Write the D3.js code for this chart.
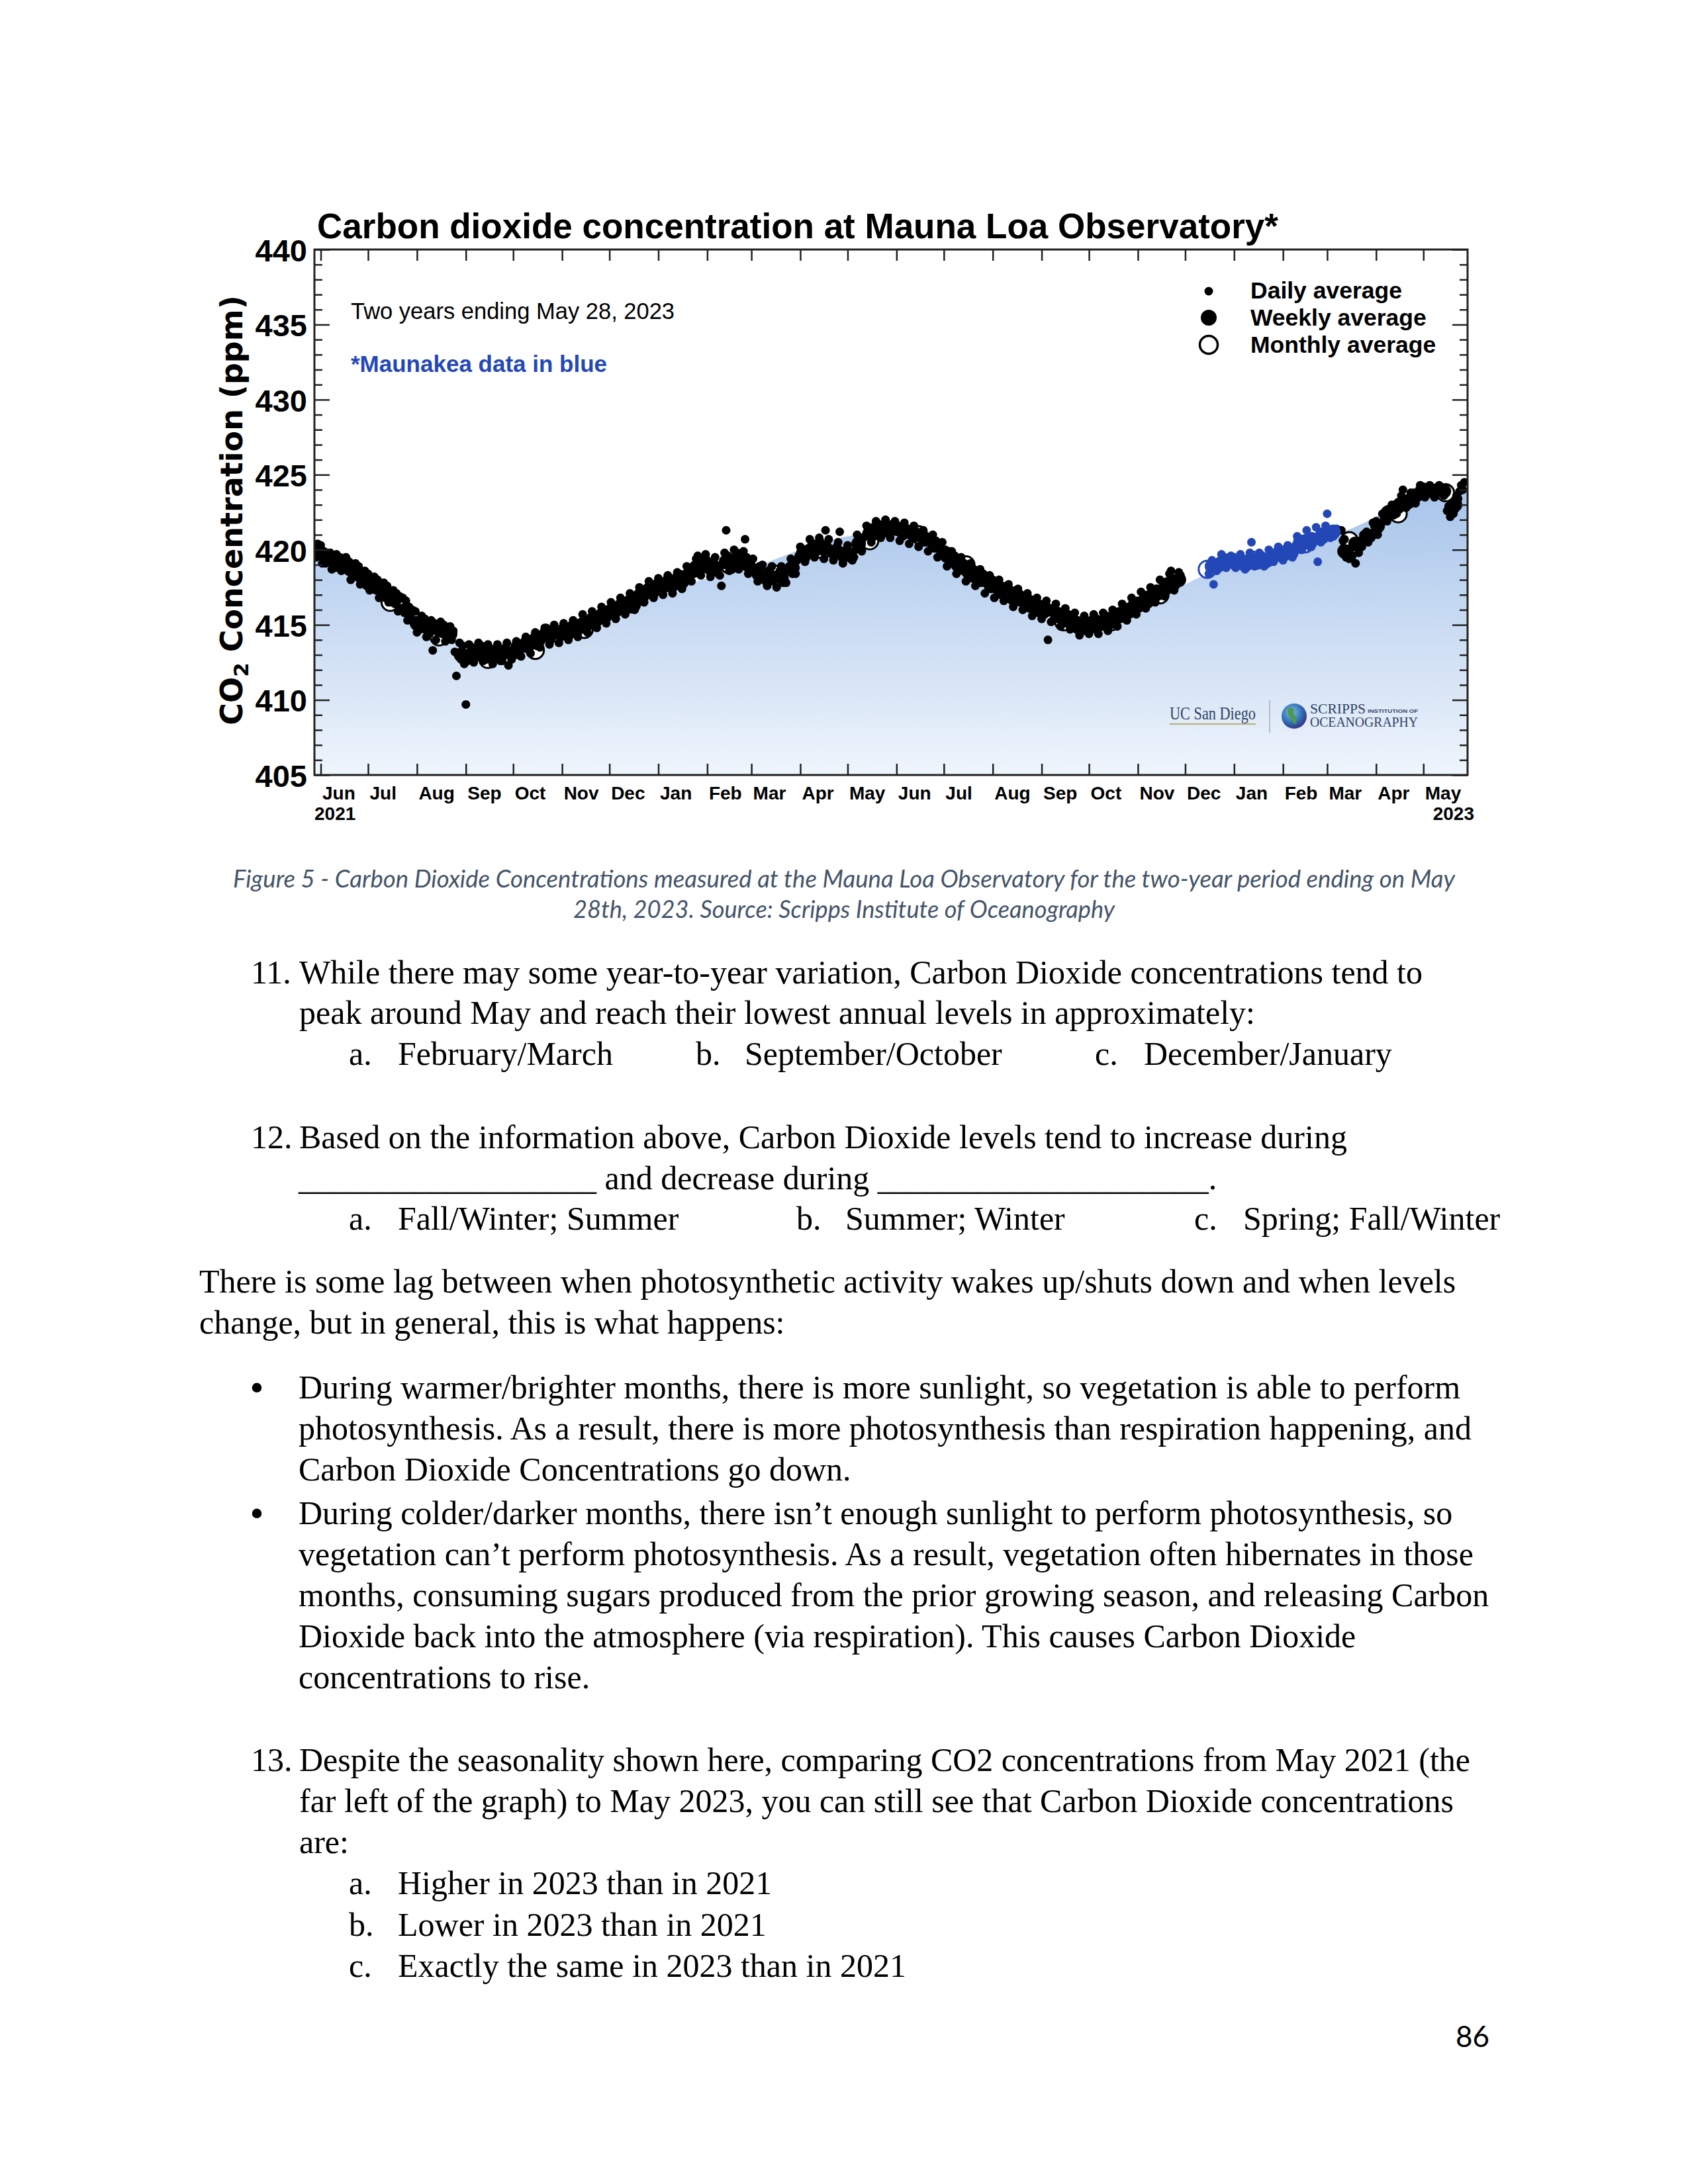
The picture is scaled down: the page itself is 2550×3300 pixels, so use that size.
<!DOCTYPE html>
<html>
<head>
<meta charset="utf-8">
<script src="https://cdn.jsdelivr.net/npm/d3@7"></script>
<style>
  body { margin: 0; background: #fff; }
  svg { display: block; }
</style>
</head>
<body>
<svg id="page" width="2550" height="3300"></svg>
<script>
"use strict";

// ---- chart data (ppm) ----
var domainStart = "2021-05-28", domainEnd = "2023-05-29";
var yMajor = [405, 410, 415, 420, 425, 430, 435, 440];
var monthLabels = ["Jun", "Jul", "Aug", "Sep", "Oct", "Nov", "Dec", "Jan", "Feb", "Mar", "Apr", "May",
                   "Jun", "Jul", "Aug", "Sep", "Oct", "Nov", "Dec", "Jan", "Feb", "Mar", "Apr", "May"];
var yearLabels = ["2021", "2023"];

// daily averages, one value every 3 days (three interleaved runs per station)
var dailyStep = 3;
var dailyStartMloA = "2021-05-28";
var dailyMloA = [420.0, 419.6, 419.9, 419.2, 419.5, 418.9, 419.3, 418.6, 418.9, 418.2,
  418.5, 417.6, 418.0, 417.3, 417.6, 416.8, 417.3, 416.4, 416.9, 415.8,
  416.2, 415.3, 414.8, 415.2, 414.5, 413.3, 414.9, 414.4, 414.8, 414.0,
  411.6, 412.7, 409.7, 413.2, 412.8, 413.4, 412.9, 413.3, 412.8, 413.4,
  413.0, 412.3, 413.3, 413.0, 413.7, 413.4, 414.0, 413.6, 414.3, 414.8,
  414.0, 414.6, 414.2, 414.7, 414.3, 414.9, 414.6, 415.3, 414.9, 415.6,
  415.2, 415.9, 415.5, 416.2, 415.8, 416.5, 416.0, 416.8, 416.4, 417.1,
  416.9, 417.6, 417.1, 417.9, 417.4, 417.9, 417.5, 418.3, 417.7, 418.5,
  418.9, 419.6, 418.7, 419.3, 418.5, 418.9, 417.6, 421.3, 419.0, 419.6,
  419.2, 420.7, 419.1, 418.6, 418.9, 418.0, 418.6, 417.9, 418.4, 417.8,
  418.7, 418.4, 419.3, 419.9, 419.5, 420.3, 419.8, 420.5, 421.3, 420.0,
  419.8, 421.2, 419.6, 419.9, 419.5, 420.2, 420.8, 421.1, 421.5, 421.0,
  421.6, 421.3, 421.7, 421.2, 421.5, 421.0, 421.3, 420.8, 421.0, 420.5,
  420.8, 420.1, 420.3, 419.6, 419.9, 419.1, 419.3, 418.6, 418.9, 418.1,
  418.6, 417.8, 418.2, 417.4, 417.8, 417.0, 417.5, 416.7, 417.1, 416.5,
  416.8, 416.1, 416.5, 415.8, 416.2, 414.0, 415.9, 415.4, 415.8, 415.1,
  415.5, 414.7, 415.1, 414.6, 415.3, 414.8, 415.3, 414.9, 415.5, 415.2,
  415.9, 415.5, 416.2, 415.9, 416.6, 416.2, 417.0, 416.6, 417.4, 417.0,
  417.8, 418.6, 417.6, 418.3];
var dailyStartMloA2 = "2021-05-29";
var dailyMloA2 = [419.5, 420.3, 419.1, 419.8, 418.8, 419.5, 418.7, 419.2, 418.3, 418.9,
  417.8, 418.4, 417.4, 418.0, 416.9, 417.6, 416.5, 417.1, 416.1, 416.6,
  415.5, 415.9, 414.7, 415.4, 414.4, 415.1, 414.5, 415.0, 414.1, 414.6,
  413.0, 413.6, 412.6, 413.5, 412.9, 413.6, 412.7, 413.4, 413.1, 412.6,
  413.5, 413.1, 413.6, 413.2, 413.9, 413.5, 414.2, 413.8, 414.5, 414.1,
  414.7, 414.3, 414.8, 414.4, 415.0, 414.5, 415.2, 414.8, 415.5, 415.1,
  415.8, 415.4, 416.1, 415.7, 416.4, 416.0, 416.7, 416.3, 417.1, 416.7,
  417.5, 417.0, 417.8, 417.3, 418.0, 417.4, 418.1, 417.6, 418.4, 418.2,
  419.0, 418.4, 419.4, 418.6, 419.2, 418.4, 419.0, 419.6, 418.8, 419.8,
  419.0, 419.5, 418.7, 418.3, 418.7, 417.9, 418.5, 418.1, 418.6, 418.0,
  418.9, 418.6, 419.6, 419.4, 420.1, 419.7, 420.4, 419.9, 420.3, 419.7,
  420.2, 419.5, 420.0, 419.4, 420.0, 420.6, 420.9, 421.4, 420.9, 421.7,
  421.1, 421.6, 421.3, 421.6, 420.9, 421.4, 420.9, 421.2, 420.6, 420.9,
  420.3, 420.6, 419.8, 420.0, 419.4, 419.6, 418.8, 419.1, 418.4, 418.7,
  417.9, 418.4, 417.6, 418.0, 417.2, 417.6, 416.9, 417.3, 416.6, 417.0,
  416.3, 416.7, 415.9, 416.4, 415.7, 416.1, 415.5, 415.9, 415.2, 415.7,
  414.9, 415.3, 414.7, 415.2, 414.7, 415.4, 414.9, 415.6, 415.0, 415.7,
  415.4, 416.0, 415.7, 416.5, 416.1, 416.8, 416.4, 417.2, 416.9, 417.6,
  417.3, 418.1, 417.9];
var dailyStartMloA3 = "2021-05-30";
var dailyMloA3 = [420.4, 419.1, 419.8, 418.7, 419.7, 418.6, 419.5, 418.0, 419.1, 417.7,
  418.6, 417.3, 418.2, 416.8, 417.8, 416.5, 417.3, 415.9, 416.8, 415.3,
  416.0, 414.5, 415.6, 414.2, 415.3, 414.0, 415.2, 413.9, 414.9, 413.2,
  413.8, 412.4, 413.7, 412.5, 413.8, 412.6, 413.7, 412.4, 413.7, 412.6,
  413.8, 412.7, 413.9, 412.9, 414.2, 413.1, 414.5, 413.5, 414.8, 413.7,
  415.0, 413.8, 415.1, 414.0, 415.3, 414.2, 415.7, 414.5, 415.9, 414.8,
  416.2, 415.1, 416.5, 415.4, 416.8, 415.7, 417.1, 416.0, 417.5, 416.5,
  417.9, 416.8, 418.1, 417.0, 418.3, 417.1, 418.5, 417.4, 418.9, 417.9,
  419.4, 418.3, 419.7, 418.2, 419.5, 418.3, 419.8, 418.6, 420.0, 418.7,
  419.9, 418.4, 419.4, 417.9, 419.0, 417.6, 418.9, 417.5, 418.9, 417.8,
  419.4, 418.4, 420.2, 419.2, 420.7, 419.5, 420.8, 419.4, 420.7, 419.3,
  420.5, 419.1, 420.3, 419.3, 421.0, 419.9, 421.6, 420.5, 421.9, 420.8,
  422.0, 420.8, 421.9, 420.6, 421.8, 420.4, 421.6, 420.2, 421.3, 419.9,
  421.0, 419.5, 420.5, 418.9, 419.9, 418.4, 419.5, 417.9, 419.1, 417.6,
  418.7, 417.1, 418.3, 416.8, 418.0, 416.6, 417.7, 416.2, 417.4, 416.0,
  417.1, 415.6, 416.8, 415.4, 416.6, 415.2, 416.4, 414.9, 416.1, 414.7,
  415.8, 414.3, 415.6, 414.4, 415.7, 414.4, 415.8, 414.6, 416.0, 414.9,
  416.4, 415.3, 416.8, 415.7, 417.2, 416.1, 417.5, 416.5, 418.0, 416.9,
  418.4, 417.3, 418.5];
var dailyStartMko = "2022-12-16";
var dailyMko = [418.4, 417.7, 419.2, 419.0, 419.4, 419.0, 419.3, 418.9, 419.4, 420.5,
  419.1, 419.5, 419.0, 419.6, 419.4, 419.9, 419.5, 420.0, 419.7, 420.6,
  420.3, 420.9, 420.4, 419.2, 421.0, 422.4, 421.2, 421.4];
var dailyStartMko2 = "2022-12-17";
var dailyMko2 = [418.8, 419.0, 418.8, 419.5, 419.1, 419.5, 419.0, 419.3, 418.9, 419.4,
  419.0, 419.6, 419.2, 419.7, 419.9, 419.5, 420.1, 419.6, 420.3, 420.0,
  420.7, 420.2, 420.8, 421.0, 420.7, 421.3, 420.9];
var dailyStartMko3 = "2022-12-18";
var dailyMko3 = [419.3, 418.6, 419.7, 418.8, 419.6, 418.8, 419.7, 418.7, 419.8, 418.9,
  419.8, 418.9, 420.0, 419.2, 420.2, 419.3, 420.3, 419.5, 420.9, 420.0,
  421.3, 420.2, 421.5, 420.5, 421.6, 420.8];
var dailyStartMloB = "2023-03-10";
var dailyMloB = [421.3, 419.5, 420.1, 419.1, 420.6, 420.9, 421.1, 421.6, 421.4, 422.2,
  422.6, 422.3, 423.0, 424.0, 423.1, 423.4, 423.6, 424.1, 423.8, 424.0,
  423.8, 424.1, 423.9, 422.2, 422.7, 423.9, 424.5];
var dailyStartMloB2 = "2023-03-11";
var dailyMloB2 = [420.6, 419.9, 419.6, 420.3, 420.2, 421.2, 420.8, 421.9, 421.7, 422.6,
  422.2, 423.0, 422.7, 423.4, 423.0, 423.8, 423.5, 424.2, 424.0, 423.7,
  424.2, 423.8, 422.6, 423.1, 423.6, 424.3];
var dailyStartMloB3 = "2023-03-12";
var dailyMloB3 = [420.7, 419.4, 420.5, 419.8, 421.0, 420.5, 421.8, 421.0, 422.4, 421.9,
  423.0, 422.4, 423.6, 422.8, 423.8, 423.1, 424.3, 423.5, 424.3, 423.5,
  424.3, 423.6, 422.9, 422.4, 423.4, 424.0];

// weekly averages
var weeklyStep = 7;
var weeklyStartMloA = "2021-05-30";
var weeklyMloA = [419.8, 419.4, 419.1, 418.7, 418.2, 417.7, 417.2, 416.7, 416.0, 415.1,
  414.8, 414.7, 414.4, 413.0, 413.1, 413.2, 413.0, 413.2, 413.3, 413.6,
  414.0, 414.3, 414.4, 414.6, 415.0, 415.3, 415.7, 416.0, 416.3, 416.8,
  417.3, 417.5, 417.7, 418.0, 418.6, 419.0, 418.8, 419.2, 419.4, 419.0,
  418.4, 418.2, 418.2, 418.8, 419.8, 420.2, 420.1, 419.9, 419.7, 420.4,
  421.1, 421.4, 421.4, 421.2, 421.0, 420.7, 420.3, 419.6, 419.0, 418.5,
  418.1, 417.6, 417.3, 416.9, 416.6, 416.2, 416.0, 415.7, 415.4, 415.0,
  415.0, 415.1, 415.4, 415.8, 416.3, 416.7, 417.2, 417.7, 418.0];
var weeklyStartMko = "2022-12-18";
var weeklyMko = [418.9, 419.2, 419.2, 419.1, 419.3, 419.3, 419.7, 419.8, 420.5, 420.7, 421.0, 421.2];
var weeklyStartMloB = "2023-03-12";
var weeklyMloB = [419.9, 420.4, 420.9, 421.6, 422.5, 423.0, 423.3, 423.9, 423.9, 423.9, 423.0];

// monthly averages (plotted mid-month)
var monthlyStartMloA = "2021-06-15";
var monthlyMloA = [419.1, 416.5, 414.2, 412.7, 413.3, 414.7, 416.4, 418.0, 419.0, 418.4,
  420.0, 420.6, 421.0, 419.0, 416.9, 415.2, 415.2, 417.0];
var monthlyStartMko = "2022-12-15";
var monthlyMko = [418.7, 419.3, 420.4];
var monthlyStartMloB = "2023-03-15";
var monthlyMloB = [420.6, 422.4, 423.8];

// smooth curve bounding the shaded area
var fillDates = ["2021-05-28", "2021-06-15", "2021-07-01", "2021-07-15", "2021-08-01", "2021-08-15",
  "2021-09-01", "2021-09-15", "2021-10-01", "2021-10-15", "2021-11-01", "2021-11-15", "2021-12-01",
  "2021-12-15", "2022-01-01", "2022-01-15", "2022-02-01", "2022-03-01", "2022-04-01", "2022-05-01",
  "2022-05-20", "2022-06-10", "2022-07-01", "2022-07-15", "2022-08-01", "2022-08-15", "2022-09-01",
  "2022-09-15", "2022-10-01", "2022-10-15", "2022-11-01", "2022-11-15", "2022-12-01", "2022-12-15",
  "2023-01-01", "2023-02-01", "2023-03-01", "2023-04-01", "2023-04-15", "2023-05-01", "2023-05-29"];
var fillValues = [420.0, 419.0, 417.9, 416.9, 415.7, 414.7, 413.9, 413.5, 413.6, 414.0,
  414.5, 415.0, 415.6, 416.3, 417.1, 417.6, 418.1, 418.8, 420.0, 420.9,
  421.1, 420.8, 419.5, 418.3, 417.1, 416.3, 415.6, 415.2, 415.05, 415.3,
  416.0, 416.9, 417.7, 418.4, 419.1, 420.0, 420.8, 422.2, 423.1, 423.7, 424.1];

// ---- helpers ----
var parse = d3.utcParse("%Y-%m-%d");
var blue = "#2447b8";

function stepSeries(start, step, values, interval) {
  var t0 = parse(start);
  return values.map(function (v, i) {
    return {date: interval.offset(t0, i * step), value: v};
  });
}

var daily = [
  {color: "#000", data: stepSeries(dailyStartMloA, dailyStep, dailyMloA, d3.utcDay)},
  {color: "#000", data: stepSeries(dailyStartMloA2, dailyStep, dailyMloA2, d3.utcDay)},
  {color: "#000", data: stepSeries(dailyStartMloA3, dailyStep, dailyMloA3, d3.utcDay)},
  {color: blue, data: stepSeries(dailyStartMko, dailyStep, dailyMko, d3.utcDay)},
  {color: blue, data: stepSeries(dailyStartMko2, dailyStep, dailyMko2, d3.utcDay)},
  {color: blue, data: stepSeries(dailyStartMko3, dailyStep, dailyMko3, d3.utcDay)},
  {color: "#000", data: stepSeries(dailyStartMloB, dailyStep, dailyMloB, d3.utcDay)},
  {color: "#000", data: stepSeries(dailyStartMloB2, dailyStep, dailyMloB2, d3.utcDay)},
  {color: "#000", data: stepSeries(dailyStartMloB3, dailyStep, dailyMloB3, d3.utcDay)}
];
var weekly = [
  {color: "#000", data: stepSeries(weeklyStartMloA, weeklyStep, weeklyMloA, d3.utcDay)},
  {color: blue, data: stepSeries(weeklyStartMko, weeklyStep, weeklyMko, d3.utcDay)},
  {color: "#000", data: stepSeries(weeklyStartMloB, weeklyStep, weeklyMloB, d3.utcDay)}
];
var monthly = [
  {color: "#000", data: stepSeries(monthlyStartMloA, 1, monthlyMloA, d3.utcMonth)},
  {color: blue, data: stepSeries(monthlyStartMko, 1, monthlyMko, d3.utcMonth)},
  {color: "#000", data: stepSeries(monthlyStartMloB, 1, monthlyMloB, d3.utcMonth)}
];
var fillCurve = fillDates.map(function (d, i) {
  return {date: parse(d), value: fillValues[i]};
});

// ---- layout ----
var plot = {left: 475, right: 2217, top: 377, bottom: 1171};
var sansBold = "'Liberation Sans', Arial, Helvetica, sans-serif";

var svg = d3.select("#page");

var x = d3.scaleUtc()
  .domain([parse(domainStart), parse(domainEnd)])
  .range([plot.left, plot.right]);
var y = d3.scaleLinear()
  .domain([405, 440])
  .range([plot.bottom, plot.top]);

var defs = svg.append("defs");
var grad = defs.append("linearGradient")
  .attr("id", "fillGrad")
  .attr("gradientUnits", "userSpaceOnUse")
  .attr("x1", 0).attr("x2", 0)
  .attr("y1", y(424.5)).attr("y2", y(405));
grad.append("stop").attr("offset", 0).attr("stop-color", "#a6c3ea");
grad.append("stop").attr("offset", 1).attr("stop-color", "#eff5fc");

defs.append("clipPath").attr("id", "plotClip")
  .append("rect")
  .attr("x", plot.left).attr("y", plot.top)
  .attr("width", plot.right - plot.left).attr("height", plot.bottom - plot.top);

var globe = defs.append("radialGradient").attr("id", "globeGrad")
  .attr("cx", "40%").attr("cy", "35%").attr("r", "70%");
globe.append("stop").attr("offset", 0).attr("stop-color", "#7fc2e8");
globe.append("stop").attr("offset", 0.6).attr("stop-color", "#2d6db3");
globe.append("stop").attr("offset", 1).attr("stop-color", "#3a2a7a");

// ---- title ----
svg.append("text")
  .attr("x", 479).attr("y", 360)
  .attr("font-family", sansBold).attr("font-weight", "bold")
  .attr("font-size", 53)
  .text("Carbon dioxide concentration at Mauna Loa Observatory*");

// ---- shaded area ----
var chart = svg.append("g").attr("clip-path", "url(#plotClip)");

var area = d3.area()
  .x(function (d) { return x(d.date); })
  .y0(y(405))
  .y1(function (d) { return y(d.value); })
  .curve(d3.curveMonotoneX);

chart.append("path")
  .datum(fillCurve)
  .attr("d", area)
  .attr("fill", "url(#fillGrad)");

// ---- logos ----
var logo = svg.append("g").attr("fill", "#2f4266");
logo.append("text")
  .attr("x", 1767).attr("y", 1087)
  .attr("font-family", "'Liberation Serif', 'Times New Roman', serif")
  .attr("font-size", 27).attr("textLength", 130).attr("lengthAdjust", "spacingAndGlyphs")
  .text("UC San Diego");
logo.append("line")
  .attr("x1", 1767).attr("x2", 1897).attr("y1", 1094).attr("y2", 1094)
  .attr("stroke", "#b8b276").attr("stroke-width", 2);
logo.append("line")
  .attr("x1", 1918).attr("x2", 1918).attr("y1", 1058).attr("y2", 1107)
  .attr("stroke", "#a9adb8").attr("stroke-width", 1.5);
logo.append("circle")
  .attr("cx", 1955).attr("cy", 1082).attr("r", 19)
  .attr("fill", "url(#globeGrad)");
logo.append("path")
  .attr("d", "M1946,1070 q6,-3 9,3 q-2,6 2,10 q4,6 -1,12 q-4,-5 -6,-10 q-6,-4 -4,-15 Z")
  .attr("fill", "#4f9a4a");
logo.append("text")
  .attr("x", 1979).attr("y", 1078)
  .attr("font-family", "'Liberation Serif', 'Times New Roman', serif")
  .attr("font-size", 22).attr("textLength", 84).attr("lengthAdjust", "spacingAndGlyphs")
  .text("SCRIPPS");
logo.append("text")
  .attr("x", 2066).attr("y", 1077)
  .attr("font-family", sansBold).attr("font-weight", "bold")
  .attr("font-size", 8).attr("textLength", 76).attr("lengthAdjust", "spacingAndGlyphs")
  .text("INSTITUTION OF");
logo.append("text")
  .attr("x", 1979).attr("y", 1098)
  .attr("font-family", "'Liberation Serif', 'Times New Roman', serif")
  .attr("font-size", 20).attr("textLength", 163).attr("lengthAdjust", "spacingAndGlyphs")
  .text("OCEANOGRAPHY");

// ---- data marks: monthly rings below, then daily and weekly dots ----
monthly.forEach(function (s) {
  chart.append("g").selectAll("circle")
    .data(s.data)
    .enter().append("circle")
    .attr("cx", function (d) { return x(d.date); })
    .attr("cy", function (d) { return y(d.value); })
    .attr("r", 13)
    .attr("fill", "#fff")
    .attr("stroke", s.color)
    .attr("stroke-width", 3);
});

daily.forEach(function (s) {
  chart.append("g").selectAll("circle")
    .data(s.data)
    .enter().append("circle")
    .attr("cx", function (d) { return x(d.date); })
    .attr("cy", function (d) { return y(d.value); })
    .attr("r", 6.5)
    .attr("fill", s.color);
});

weekly.forEach(function (s) {
  chart.append("g").selectAll("circle")
    .data(s.data)
    .enter().append("circle")
    .attr("cx", function (d) { return x(d.date); })
    .attr("cy", function (d) { return y(d.value); })
    .attr("r", 11)
    .attr("fill", s.color);
});

// ---- axes ----
var monthTicks = d3.utcMonth.range(d3.utcMonth.ceil(x.domain()[0]), x.domain()[1]);
var yMinor = d3.range(405, 441).filter(function (v) { return v % 5 !== 0; });

function styleTicks(g) {
  g.select(".domain").remove();
  g.selectAll(".tick line").attr("stroke", "#222").attr("stroke-width", 2.5);
}

svg.append("g")
  .attr("transform", "translate(0," + plot.bottom + ")")
  .call(d3.axisBottom(x).tickValues(monthTicks).tickSize(-17).tickPadding(17)
    .tickFormat(function (d, i) { return monthLabels[i]; }))
  .call(styleTicks)
  .call(function (g) {
    g.selectAll(".tick text")
      .attr("text-anchor", "start").attr("x", 2)
      .attr("fill", "#000")
      .attr("font-family", sansBold).attr("font-weight", "bold").attr("font-size", 28);
  });

svg.append("g")
  .attr("transform", "translate(0," + plot.top + ")")
  .call(d3.axisTop(x).tickValues(monthTicks).tickSize(-17).tickFormat(""))
  .call(styleTicks);

svg.append("g")
  .attr("transform", "translate(" + plot.left + ",0)")
  .call(d3.axisLeft(y).tickValues(yMinor).tickSize(-12).tickFormat(""))
  .call(styleTicks);

svg.append("g")
  .attr("transform", "translate(" + plot.left + ",0)")
  .call(d3.axisLeft(y).tickValues(yMajor).tickSize(-23).tickPadding(11).tickFormat(d3.format("d")))
  .call(styleTicks)
  .call(function (g) {
    g.selectAll(".tick text")
      .attr("dy", "0.37em").attr("fill", "#000")
      .attr("font-family", sansBold).attr("font-weight", "bold").attr("font-size", 47);
  });

svg.append("g")
  .attr("transform", "translate(" + plot.right + ",0)")
  .call(d3.axisRight(y).tickValues(yMinor).tickSize(-12).tickFormat(""))
  .call(styleTicks);

svg.append("g")
  .attr("transform", "translate(" + plot.right + ",0)")
  .call(d3.axisRight(y).tickValues(yMajor).tickSize(-23).tickFormat(""))
  .call(styleTicks);

svg.append("text")
  .attr("x", plot.left).attr("y", 1239)
  .attr("font-family", sansBold).attr("font-weight", "bold").attr("font-size", 28)
  .text(yearLabels[0]);
svg.append("text")
  .attr("x", 2227).attr("y", 1239).attr("text-anchor", "end")
  .attr("font-family", sansBold).attr("font-weight", "bold").attr("font-size", 28)
  .text(yearLabels[1]);

svg.append("rect")
  .attr("x", plot.left).attr("y", plot.top)
  .attr("width", plot.right - plot.left).attr("height", plot.bottom - plot.top)
  .attr("fill", "none").attr("stroke", "#222").attr("stroke-width", 3);

// y-axis title
var ytitle = svg.append("text")
  .attr("transform", "translate(366,771) rotate(-90)")
  .attr("text-anchor", "middle")
  .attr("font-family", "'DejaVu Sans', Verdana, sans-serif").attr("font-weight", "bold")
  .attr("font-size", 46);
ytitle.append("tspan").text("CO");
ytitle.append("tspan").attr("font-size", 31).attr("dy", 9).text("2");
ytitle.append("tspan").attr("dy", -9).text(" Concentration (ppm)");

// ---- notes in plot ----
svg.append("text")
  .attr("x", 530).attr("y", 482)
  .attr("font-family", sansBold).attr("font-size", 34.5)
  .text("Two years ending May 28, 2023");
svg.append("text")
  .attr("x", 530).attr("y", 562)
  .attr("font-family", sansBold).attr("font-weight", "bold").attr("font-size", 35)
  .attr("fill", blue)
  .text("*Maunakea data in blue");

// ---- legend ----
var legend = svg.append("g").attr("font-family", sansBold).attr("font-weight", "bold").attr("font-size", 35.5);
legend.append("circle").attr("cx", 1826).attr("cy", 440).attr("r", 6.5).attr("fill", "#000");
legend.append("circle").attr("cx", 1826).attr("cy", 480).attr("r", 12).attr("fill", "#000");
legend.append("circle").attr("cx", 1826).attr("cy", 521).attr("r", 13.5)
  .attr("fill", "#fff").attr("stroke", "#000").attr("stroke-width", 3.5);
legend.append("text").attr("x", 1889).attr("y", 451).text("Daily average");
legend.append("text").attr("x", 1889).attr("y", 492).text("Weekly average");
legend.append("text").attr("x", 1889).attr("y", 533).text("Monthly average");

// ---- caption ----
var caption = svg.append("g")
  .attr("font-family", "Lato, 'Open Sans', 'Noto Sans', sans-serif")
  .attr("font-style", "italic").attr("font-size", 37)
  .attr("fill", "#44546a").attr("text-anchor", "middle");
caption.append("text").attr("x", 1275).attr("y", 1341)
  .attr("textLength", 1846).attr("lengthAdjust", "spacingAndGlyphs")
  .text("Figure 5 - Carbon Dioxide Concentrations measured at the Mauna Loa Observatory for the two-year period ending on May");
caption.append("text").attr("x", 1275).attr("y", 1387)
  .attr("textLength", 818).attr("lengthAdjust", "spacingAndGlyphs")
  .text("28th, 2023. Source: Scripps Institute of Oceanography");

// ---- worksheet text ----
var body = [
  [379, 1486, "11."], [452, 1486, "While there may some year-to-year variation, Carbon Dioxide concentrations tend to"],
  [452, 1547, "peak around May and reach their lowest annual levels in approximately:"],
  [527, 1609, "a."], [601, 1609, "February/March"], [1051, 1609, "b."], [1125, 1609, "September/October"],
  [1654, 1609, "c."], [1728, 1609, "December/January"],
  [379, 1735, "12."], [452, 1735, "Based on the information above, Carbon Dioxide levels tend to increase during"],
  [451, 1797, "__________________ and decrease during ____________________."],
  [527, 1858, "a."], [601, 1858, "Fall/Winter; Summer"], [1203, 1858, "b."], [1277, 1858, "Summer; Winter"],
  [1804, 1858, "c."], [1878, 1858, "Spring; Fall/Winter"],
  [301, 1953, "There is some lag between when photosynthetic activity wakes up/shuts down and when levels"],
  [301, 2015, "change, but in general, this is what happens:"],
  [451, 2113, "During warmer/brighter months, there is more sunlight, so vegetation is able to perform"],
  [451, 2175, "photosynthesis. As a result, there is more photosynthesis than respiration happening, and"],
  [451, 2237, "Carbon Dioxide Concentrations go down."],
  [451, 2303, "During colder/darker months, there isn\u2019t enough sunlight to perform photosynthesis, so"],
  [451, 2365, "vegetation can\u2019t perform photosynthesis. As a result, vegetation often hibernates in those"],
  [451, 2427, "months, consuming sugars produced from the prior growing season, and releasing Carbon"],
  [451, 2489, "Dioxide back into the atmosphere (via respiration). This causes Carbon Dioxide"],
  [451, 2551, "concentrations to rise."],
  [379, 2676, "13."], [452, 2676, "Despite the seasonality shown here, comparing CO2 concentrations from May 2021 (the"],
  [452, 2738, "far left of the graph) to May 2023, you can still see that Carbon Dioxide concentrations"],
  [452, 2800, "are:"],
  [527, 2862, "a."], [601, 2862, "Higher in 2023 than in 2021"],
  [527, 2925, "b."], [601, 2925, "Lower in 2023 than in 2021"],
  [527, 2987, "c."], [601, 2987, "Exactly the same in 2023 than in 2021"]
];

svg.append("g")
  .attr("font-family", "'Liberation Serif', 'Times New Roman', serif")
  .attr("font-size", 50).attr("fill", "#000")
  .selectAll("text")
  .data(body)
  .enter().append("text")
  .attr("x", function (d) { return d[0]; })
  .attr("y", function (d) { return d[1]; })
  .text(function (d) { return d[2]; });

// bullets
svg.append("g")
  .attr("font-family", "'DejaVu Sans', sans-serif").attr("font-size", 50)
  .attr("text-anchor", "middle")
  .selectAll("text")
  .data([2113, 2303])
  .enter().append("text")
  .attr("x", 388)
  .attr("y", function (d) { return d + 2; })
  .text("\u2022");

svg.append("text")
  .attr("x", 2250).attr("y", 3093).attr("text-anchor", "end")
  .attr("font-family", "Lato, 'Open Sans', sans-serif").attr("font-size", 44)
  .text("86");
</script>
</body>
</html>
